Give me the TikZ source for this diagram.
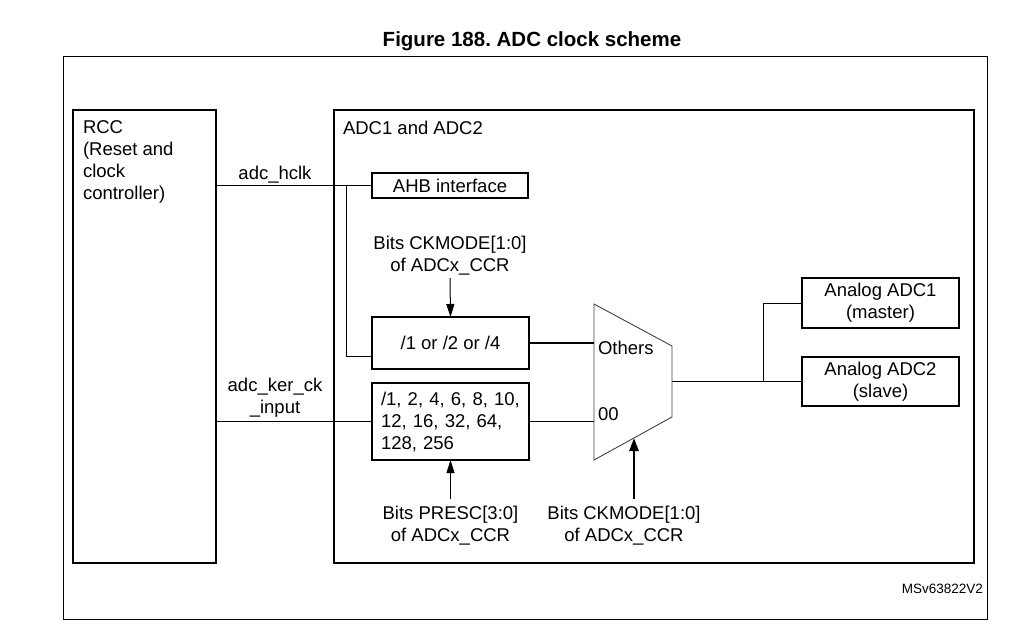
\documentclass[tikz,border=0pt]{standalone}
\usepackage{fontspec}
\setmainfont{Liberation Sans}
\frenchspacing
\usetikzlibrary{arrows.meta}
\begin{document}
\begin{tikzpicture}[x=1pt,y=-1pt,
  every node/.style={inner sep=0pt, outer sep=0pt, font=\fontsize{18.5}{22}\selectfont},
  box/.style={draw, line width=1.5pt, align=center},
  bigbox/.style={draw, line width=2.8pt, anchor=north west},
  wire/.style={line width=1pt},
  thickwire/.style={line width=2.6pt},
  arr/.style={wire, -{Triangle[length=13pt,width=8pt]}},
  thickarr/.style={thickwire, -{Triangle[length=13pt,width=9pt]}},
  lbl/.style={align=center, anchor=north},
]
\useasboundingbox (0,0) rectangle (1028,624);
% title and frame
\node[anchor=base, font=\fontsize{20.5}{24}\selectfont\bfseries] (title) at (532,46) {Figure 188. ADC clock scheme};
\node[draw, line width=1pt, minimum width=924pt, minimum height=563pt, anchor=north west] (frame) at (63,56) {};
\node[anchor=base east, font=\fontsize{13.5}{16}\selectfont] (ref) at (983,593) {MSv63822V2};
% big boxes
\node[bigbox, minimum width=143pt, minimum height=453pt] (rcc) at (73,110) {};
\node[anchor=north west, align=left] (rcctext) at (83,121) {RCC\\(Reset and\\clock\\controller)};
\node[bigbox, minimum width=640pt, minimum height=453pt] (adc) at (334,110) {};
\node[anchor=base west] (adctext) at (343,134) {ADC1 and ADC2};
% inner boxes
\node[box, minimum width=156pt, minimum height=25pt] (ahb) at (450,185.5) {AHB interface};
\node[box, minimum width=157pt, minimum height=52pt] (div) at (450.5,343) {/1 or /2 or /4};
\node[box, text width=139pt, align=left, inner xsep=9pt, minimum height=77pt] (presc) at (450.5,421.5) {/1, 2, 4, 6, 8, 10,\\12, 16, 32, 64,\\128, 256};
\node[box, minimum width=157pt, minimum height=50pt] (adc1) at (880.5,303) {Analog ADC1\\(master)};
\node[box, minimum width=157pt, minimum height=49pt] (adc2) at (880.5,381.5) {Analog ADC2\\(slave)};
% labels
\node[anchor=base] (hclk) at (275,179) {adc\_hclk};
\node[lbl] (kerlbl) at (275,378) {adc\_ker\_ck\\\_input};
\node[lbl] (ckmA) at (450,236) {Bits CKMODE[1:0]\\of ADCx\_CCR};
\node[lbl] (prescL) at (450.5,506) {Bits PRESC[3:0]\\of ADCx\_CCR};
\node[lbl] (ckmB) at (624,506) {Bits CKMODE[1:0]\\of ADCx\_CCR};
% mux
\coordinate (mTL) at (594,304);
\coordinate (mTR) at (672,346);
\coordinate (mBR) at (672,417);
\coordinate (mBL) at (594,460);
\draw[line width=0.9pt, black!75] (mTL) -- (mTR) -- (mBR) -- (mBL) -- cycle;
\coordinate (muxin1) at (594,343);
\coordinate (muxin0) at (594,421.5);
\coordinate (muxout) at (672,381.5);
\coordinate (muxsel) at (634,438);
\node[anchor=base west] (others) at (598,354) {Others};
\node[anchor=base west] (zero) at (598,420) {00};
% connectors
\coordinate (hbr) at (346,185.5);
\coordinate (obr) at (763,381.5);
\draw[wire] (ahb.west -| rcc.east) -- (ahb.west);
\draw[wire] (hbr) |- ([yshift=-13pt]div.west);
\draw[arr] ([yshift=-3pt]ckmA.south) -- (div.north);
\draw[thickwire] (div.east) -- (muxin1);
\draw[wire] (presc.west -| rcc.east) -- (presc.west);
\draw[wire] (presc.east) -- (muxin0);
\draw[arr] ([yshift=7pt]prescL.north) -- (presc.south);
\draw[thickarr] ([yshift=7pt]ckmB.north -| muxsel) -- (muxsel);
\draw[wire] (muxout) -- (adc2.west);
\draw[wire] (obr) |- (adc1.west);
\end{tikzpicture}
\end{document}
